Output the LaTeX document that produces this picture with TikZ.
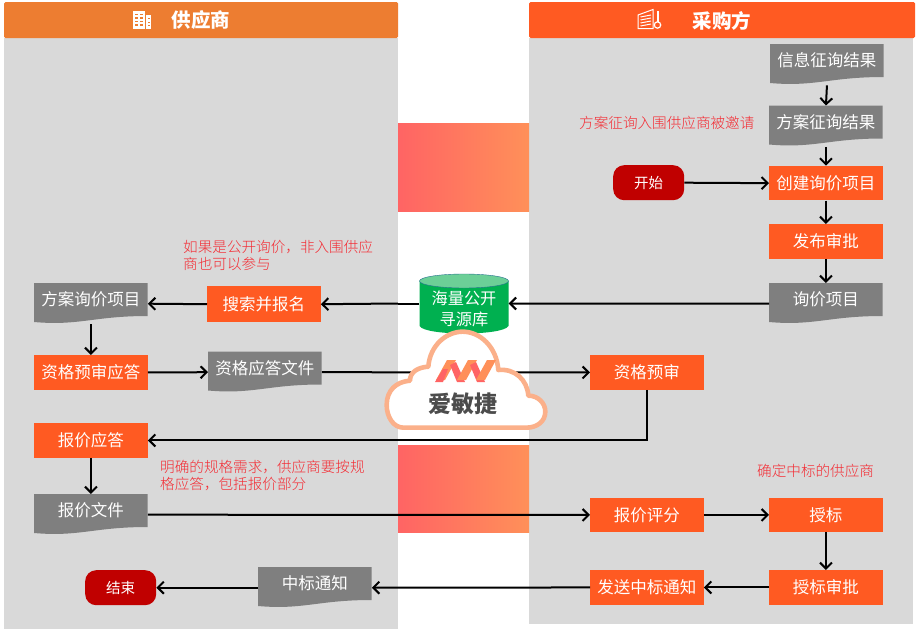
\documentclass[tikz,border=0pt]{standalone}
\usepackage{fontspec}
\setmainfont{Noto Sans CJK SC}
\newfontfamily\notefont{Noto Sans CJK SC Light}
\usetikzlibrary{arrows.meta,shapes.geometric}
\definecolor{panelgray}{HTML}{D9D9D9}
\definecolor{hdorange}{HTML}{ED7D31}
\definecolor{hdred}{HTML}{FF5A22}
\definecolor{docgray}{HTML}{7F7F7F}
\definecolor{stopred}{HTML}{C00000}
\definecolor{dbgreen}{HTML}{00B050}
\definecolor{dbtop}{HTML}{6CCF97}
\definecolor{notered}{HTML}{F42A32}
\definecolor{cloudedge}{HTML}{FBB08A}
\definecolor{bandl}{HTML}{FF6464}
\definecolor{bandr}{HTML}{FF9059}
\tikzset{
 x=1pt,y=-1pt,
 panel/.style={fill=panelgray,draw=none},
 header/.style={rounded corners=1.5,draw=none},
 band/.style={draw=none,left color=bandl,right color=bandr},
 stepbox/.style={rectangle,fill=hdred,text=white,minimum width=113.5pt,minimum height=34.5pt,inner sep=0pt,font=\fontsize{16.5}{18}\selectfont},
 docbox/.style={rectangle,text=white,minimum width=113.5pt,minimum height=41pt,inner sep=0pt,font=\fontsize{16.5}{18}\selectfont},
 term/.style={rectangle,rounded corners=11pt,fill=stopred,text=white,minimum width=71pt,minimum height=35pt,inner sep=0pt,font=\fontsize{14.5}{16}\selectfont},
 note/.style={text=notered,anchor=north west,inner sep=0pt,align=left,font=\notefont\fontsize{14.6}{16.8}\selectfont},
 title/.style={text=white,font=\bfseries\fontsize{19.5}{21}\selectfont,inner sep=0pt},
 conn/.style={line width=2pt,draw=black,-{Straight Barb[length=6pt,width=12pt,line width=2pt]}},
 plainconn/.style={line width=2pt,draw=black},
}
% #1 name, #2 left, #3 top, #4 text
\newcommand{\docnode}[4]{%
 \fill[docgray] (#2,#3) -- (#2+113.5,#3) -- (#2+113.5,#3+33)
   .. controls (#2+60,#3+33) and (#2+45,#3+43) .. (#2,#3+39) -- cycle;
 \node[docbox,anchor=north west] (#1) at (#2,#3) {\raisebox{9.5pt}{#4}};
}
\begin{document}
\begin{tikzpicture}
\useasboundingbox (0,0) rectangle (919,629);
\fill[white] (0,0) rectangle (919,629);
% panels
\fill[panel] (4,38) rectangle (398,629);
\fill[panel] (529,38) rectangle (913,624);
\fill[header,fill=hdorange] (4,2) rectangle (398,38);
\fill[header,fill=hdred] (529,2) rectangle (915,38);
\node[title] (suptitle) at (201,20.5) {供应商};
\node[title] (buytitle) at (722,20.5) {采购方};
% header icons
\fill[white] (133,11) rectangle (145,29);
\fill[white] (146,15) rectangle (151,29);
\foreach \yy in {13.5,17,20.5,24}{\foreach \xx in {135,139.5}{\fill[hdorange] (\xx,\yy) rectangle +(3,1.6);}}
\foreach \yy in {18,21.5,25}{\fill[hdorange] (147.5,\yy) rectangle +(2.2,1.4);}
\draw[white,line width=1pt] (638,28.5) -- (638,15) -- (653,9.5) -- (653,28.5) -- cycle;
\foreach \yy in {17,20,23,26}{\draw[white,line width=1pt] (640.5,\yy) -- (651,\yy-2);}
\fill[white] (657,11) rectangle (658.6,22);
\draw[white,line width=1.2pt] (657.5,25) circle (3.2);
% gradient bands
\path[band] (398,123) rectangle (529,211);
\path[band] (398,445) rectangle (529,532);
% nodes
\docnode{qinfo}{770}{44}{信息征询结果}
\docnode{qplan}{769}{105.5}{方案征询结果}
\node[stepbox,anchor=north west] (create) at (769,165.7) {创建询价项目};
\node[stepbox,anchor=north west] (approve) at (769,224) {发布审批};
\docnode{inq}{769}{283}{询价项目}
\node[term,anchor=north west] (start) at (613,165) {开始};
\node[stepbox,anchor=north west,minimum height=36pt] (search) at (207,286) {搜索并报名};
\docnode{planinq}{34}{283}{方案询价项目}
\node[stepbox,anchor=north west] (prereply) at (34,355) {资格预审应答};
\docnode{prefile}{208}{351.5}{资格应答文件}
\node[stepbox,anchor=north west] (precheck) at (590,355) {资格预审};
\node[stepbox,anchor=north west] (quote) at (34,423) {报价应答};
\docnode{quotefile}{34}{494}{报价文件}
\node[stepbox,anchor=north west] (score) at (590,497.5) {报价评分};
\node[stepbox,anchor=north west] (award) at (769,497.5) {授标};
\node[stepbox,anchor=north west] (awardok) at (769,570) {授标审批};
\node[stepbox,anchor=north west] (send) at (590,570) {发送中标通知};
\docnode{win}{258}{567}{中标通知}
\node[term,anchor=north west] (finish) at (85,570) {结束};
% cylinder
\fill[dbgreen] (419.5,281) -- (419.5,326) .. controls (425,336) and (503,336) .. (508.5,326) -- (508.5,281) -- cycle;
\fill[dbtop,draw=dbgreen!60!blue!70!gray,line width=.4pt] (464,281) ellipse (44.5 and 7);
\node[rectangle,inner sep=0pt,minimum width=89pt,minimum height=60pt,text=white,font=\fontsize{16.2}{18}\selectfont] (db) at (464,303.5) {\raisebox{-5pt}[\height][\depth]{\shortstack{海量公开\\[3pt]寻源库}}};
% connectors
\draw[conn] (qinfo.south) -- (qplan.north);
\draw[conn] (qplan.south) -- (create.north);
\draw[conn] (start.east) -- (create.west);
\draw[conn] (create.south) -- (approve.north);
\draw[conn] (approve.south) -- (inq.north);
\draw[conn] (inq.west) -- (db.east);
\draw[plainconn] (db.west) -- (398,303.5);
\draw[conn] (398,303.5) -- (search.east);
\draw[conn] (search.west) -- (planinq.east);
\draw[conn] (planinq.south) -- (prereply.north);
\draw[conn] (prereply.east) -- (prefile.west);
\draw[conn] (prefile.east) -- (precheck.west);
\draw[conn] (precheck.south) |- (quote.east);
\draw[conn] (quote.south) -- (quotefile.north);
\draw[conn] (quotefile.east) -- (score.west);
\draw[conn] (score.east) -- (award.west);
\draw[conn] (award.south) -- (awardok.north);
\draw[conn] (awardok.west) -- (send.east);
\draw[conn] (send.west) -- (win.east);
\draw[conn] (win.west) -- (finish.east);
% cloud
\begin{scope}[shift={(330,260)},x=.3333pt,y=-.3333pt]
\path[fill=white,draw=cloudedge,line width=4.6pt,line join=round]
 (220,503) .. controls (190,503) and (170,470) .. (170,435)
 .. controls (170,390) and (200,365) .. (240,362)
 .. controls (240,335) and (265,322) .. (295,320)
 .. controls (300,255) and (350,215) .. (398,215)
 .. controls (450,215) and (500,260) .. (505,330)
 .. controls (555,325) and (592,360) .. (595,407)
 .. controls (625,407) and (646,430) .. (646,455)
 .. controls (646,485) and (620,503) .. (590,503) -- cycle;
\end{scope}
% logo
\fill[bandr] (447,360) -- (456,360) -- (445,380) -- (436,380) -- cycle;
\fill[bandl] (435,382) -- (443,369) -- (448,369) -- (443,382) -- cycle;
\fill[bandl] (450,365) -- (456,362) -- (465,382) -- (457,382) -- cycle;
\fill[bandr] (468,360) -- (477,360) -- (466,380) -- (457,380) -- cycle;
\fill[bandl] (470,365) -- (476,362) -- (485,382) -- (477,382) -- cycle;
\fill[bandr] (487,360) -- (496,360) -- (485,380) -- (476,380) -- cycle;
\node[text=black!70,font=\bfseries\fontsize{23}{25}\selectfont,inner sep=0pt] (cloudtxt) at (463,404) {爱敏捷};
% notes
\node[note] (n1) at (183,240.5) {如果是公开询价，非入围供应\\商也可以参与};
\node[note] (n2) at (579,116) {方案征询入围供应商被邀请};
\node[note] (n3) at (160,460) {明确的规格需求，供应商要按规\\格应答，包括报价部分};
\node[note] (n4) at (757,464.5) {确定中标的供应商};
\end{tikzpicture}
\end{document}
